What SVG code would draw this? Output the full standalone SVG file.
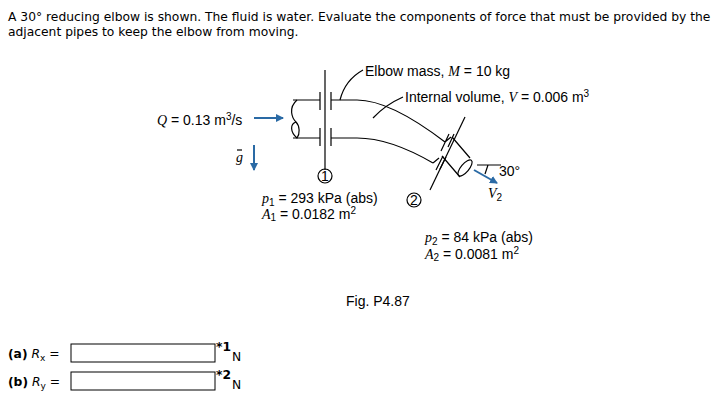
<svg xmlns="http://www.w3.org/2000/svg" width="715" height="404" viewBox="0 0 715 404">
<style>
.t{font-family:"DejaVu Sans",sans-serif;font-size:12.3px;fill:#000}
.f{font-family:"Liberation Sans",sans-serif;font-size:14px;fill:#000}
.i{font-family:"Liberation Serif",serif;font-style:italic}
.l{stroke:#000;stroke-width:1.2;fill:none}
.b{stroke:#2a6aa5;stroke-width:2;fill:none}
</style>
<defs><marker id="ah" markerWidth="8" markerHeight="8" refX="7" refY="4" orient="auto" markerUnits="userSpaceOnUse"><path d="M0,0 L8,4 L0,8 Z" fill="#2a6aa5"/></marker></defs>
<rect width="715" height="404" fill="#fff"/>
<text class="t" x="8" y="21">A 30° reducing elbow is shown. The fluid is water. Evaluate the components of force that must be provided by the</text>
<text class="t" x="8" y="36">adjacent pipes to keep the elbow from moving.</text>
<g id="elbow">
<path class="l" d="M325,70 V170"/>
<path class="l" d="M293,100 H320 M320,92 V110 M320,128 V146 M293,138 H320"/>
<path class="l" d="M297,100 C288,108 292,118 296,122 C300,126 300,134 297,138 C290,132 290,124 296,122"/>
<path class="l" d="M331,92 V110 M331,128 V146 M331,100 H357 Q390,100 445,142 M331,138 H357 Q390,138 433,163"/>
<path class="l" d="M465,117 L430,190"/>
<path class="l" d="M445,142 L451,137 M433,163 L439,158 M449,134 L441,151 M443,156 L436,170 M454,134 L448,147 M446,157 L440,169"/>
<path class="l" d="M452,137 L470,158 M442,156 L460,177"/>
<ellipse class="l" cx="465" cy="168" rx="4" ry="10" transform="rotate(40 465 168)"/>
</g>
<g id="labels">
<text class="f" x="365" y="76">Elbow mass, <tspan class="i">M</tspan> = 10 kg</text>
<path class="l" d="M340,100 Q345,80 363,70"/>
<text class="f" x="405" y="102">Internal volume, <tspan class="i">V</tspan> = 0.006 m<tspan dy="-5" font-size="10">3</tspan></text>
<path class="l" d="M373,118 Q385,105 403,97"/>
<text class="f" x="157" y="125"><tspan class="i">Q</tspan> = 0.13 m<tspan dy="-5" font-size="10">3</tspan><tspan dy="5">/s</tspan></text>
<path class="b" d="M254,118 H283" marker-end="url(#ah)"/>
<text class="f i" x="236" y="162">g</text>
<path class="l" d="M237,150 H242" stroke-width="0.8"/>
<path class="b" d="M254,145 V170" marker-end="url(#ah)"/>
<circle class="l" cx="325" cy="176" r="7"/><text class="f" x="325" y="181" text-anchor="middle" font-size="12">1</text>
<circle class="l" cx="414" cy="200" r="7"/><text class="f" x="414" y="205" text-anchor="middle" font-size="12">2</text>
<text class="f" x="262" y="203"><tspan class="i">p</tspan><tspan font-size="10" dy="3">1</tspan><tspan dy="-3"> = 293 kPa (abs)</tspan></text>
<text class="f" x="262" y="219"><tspan class="i">A</tspan><tspan font-size="10" dy="2">1</tspan><tspan dy="-2"> = 0.0182 m</tspan><tspan dy="-5" font-size="10">2</tspan></text>
<text class="f" x="425" y="242"><tspan class="i">p</tspan><tspan font-size="10" dy="3">2</tspan><tspan dy="-3"> = 84   kPa (abs)</tspan></text>
<text class="f" x="425" y="259"><tspan class="i">A</tspan><tspan font-size="10" dy="2">2</tspan><tspan dy="-2"> = 0.0081 m</tspan><tspan dy="-5" font-size="10">2</tspan></text>
<path class="b" d="M474,170 L497,183" marker-end="url(#ah)"/>
<path class="l" d="M477,165 H501 M488,165 L485,174" stroke-width="0.9"/>
<text class="f" x="499" y="176">30°</text>
<text class="f" x="488" y="198"><tspan class="i">V</tspan><tspan font-size="10" dy="3">2</tspan></text>
<text class="f" x="346" y="306" font-size="13">Fig. P4.87</text>
</g>
<g id="answers">
<text class="t" x="8" y="358"><tspan font-weight="bold">(a)</tspan> <tspan font-style="italic">R</tspan><tspan font-size="9" dy="3">x</tspan><tspan dy="-3"> =</tspan></text>
<rect x="71" y="344" width="144" height="18" fill="#fff" stroke="#000"/>
<text class="t" x="216" y="351" font-size="8" font-weight="bold">*1</text>
<text class="t" x="232" y="361">N</text>
<text class="t" x="8" y="386"><tspan font-weight="bold">(b)</tspan> <tspan font-style="italic">R</tspan><tspan font-size="9" dy="3">y</tspan><tspan dy="-3"> =</tspan></text>
<rect x="71" y="372" width="144" height="18" fill="#fff" stroke="#000"/>
<text class="t" x="216" y="379" font-size="8" font-weight="bold">*2</text>
<text class="t" x="232" y="389">N</text>
</g>
</svg>
